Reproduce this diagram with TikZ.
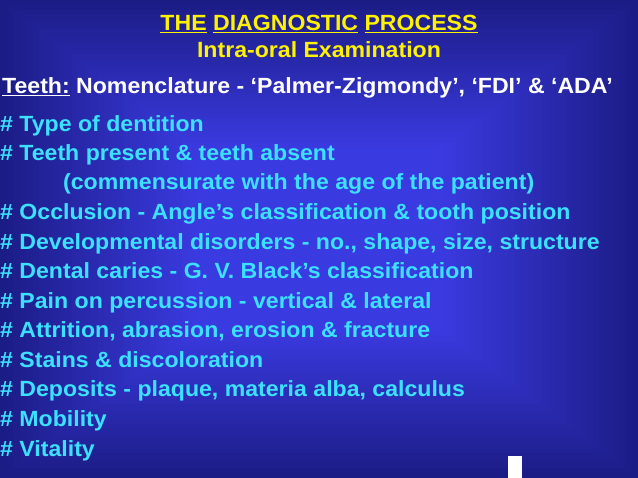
\documentclass[tikz,border=0pt]{standalone}
\usepackage{fontspec}
\setmainfont{Liberation Sans}[FakeStretch=1.05]
\newcommand{\myul}[1]{\underline{#1}}
\definecolor{bgout}{RGB}{28,28,135}
\definecolor{bgin}{RGB}{58,58,225}
\definecolor{txt}{RGB}{60,225,255}
\begin{document}
\begin{tikzpicture}[x=1pt,y=-1pt,
  ln/.style={anchor=base west,inner sep=0,font=\bfseries\fontsize{22}{22}\selectfont,text=txt},
  hd/.style={anchor=base,inner sep=0,font=\bfseries\fontsize{22}{22}\selectfont,text=yellow}]
\useasboundingbox (0,0) rectangle (638,478);
\foreach \i in {0,...,30}{
  \pgfmathsetmacro\c{100*\i/30}
  \fill[bgin!\c!bgout] ({\i*6.5},{\i*4.9}) rectangle ({638-\i*6.5},{478-\i*4.9});
}
\node[hd] (t1) at (319,31) {\myul{THE} \myul{DIAGNOSTIC} \myul{PROCESS}};
\node[hd] (t2) at (319,58) {Intra-oral Examination};
\node[ln,text=white] (t3) at (2,94) {\myul{Teeth:} Nomenclature - ‘Palmer-Zigmondy’, ‘FDI’ \& ‘ADA’};
\node[ln] (a1) at (0,132) {\# Type of dentition};
\node[ln] (a2) at (0,161) {\# Teeth present \& teeth absent};
\node[ln] (a3) at (63,190) {(commensurate with the age of the patient)};
\node[ln] (a4) at (0,220) {\# Occlusion - Angle’s classification \& tooth position};
\node[ln] (a5) at (0,250) {\# Developmental disorders - no., shape, size, structure};
\node[ln] (a6) at (0,279) {\# Dental caries - G. V. Black’s classification};
\node[ln] (a7) at (0,309) {\# Pain on percussion - vertical \& lateral};
\node[ln] (a8) at (0,338) {\# Attrition, abrasion, erosion \& fracture};
\node[ln] (a9) at (0,368) {\# Stains \& discoloration};
\node[ln] (a10) at (0,397) {\# Deposits - plaque, materia alba, calculus};
\node[ln] (a11) at (0,427) {\# Mobility};
\node[ln] (a12) at (0,457) {\# Vitality};
\fill[white] (508,456) rectangle (522,478);
\end{tikzpicture}
\end{document}
